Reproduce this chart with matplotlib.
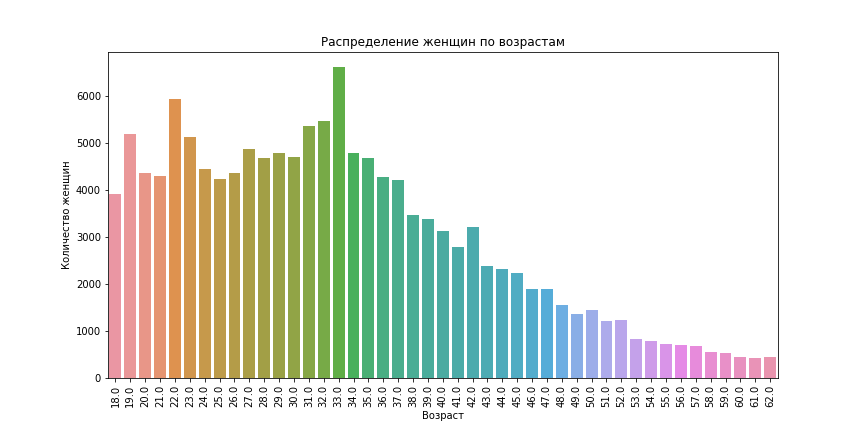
import matplotlib
matplotlib.use("Agg")
import matplotlib.pyplot as plt
import seaborn as sns

ages = [18.0, 19.0, 20.0, 21.0, 22.0, 23.0, 24.0, 25.0, 26.0, 27.0, 28.0,
        29.0, 30.0, 31.0, 32.0, 33.0, 34.0, 35.0, 36.0, 37.0, 38.0, 39.0,
        40.0, 41.0, 42.0, 43.0, 44.0, 45.0, 46.0, 47.0, 48.0, 49.0, 50.0,
        51.0, 52.0, 53.0, 54.0, 55.0, 56.0, 57.0, 58.0, 59.0, 60.0, 61.0, 62.0]
counts = [3920, 5210, 4360, 4300, 5940, 5130, 4450, 4240, 4360, 4890, 4680,
          4790, 4720, 5380, 5470, 6620, 4790, 4680, 4280, 4210, 3470, 3380,
          3130, 2790, 3210, 2380, 2320, 2230, 1890, 1890, 1550, 1360, 1450,
          1210, 1230, 830, 790, 720, 700, 680, 550, 530, 450, 430, 450]

labels = [str(a) for a in ages]

# husl palette, a bit lighter, desaturated to 0.75 like old seaborn
colors = [sns.desaturate(c, 0.75) for c in sns.husl_palette(len(labels), h=.01, s=.9, l=.7)]

fig, ax = plt.subplots(figsize=(12, 6), dpi=72)
fig.subplots_adjust(left=0.125, right=0.9, top=0.88, bottom=0.125)
sns.barplot(x=labels, y=counts, hue=labels, palette=colors, saturation=1,
            legend=False, ax=ax)
ax.set_title("Распределение женщин по возрастам")
ax.set_xlabel("Возраст")
ax.set_ylabel("Количество женщин")
plt.xticks(rotation=90)
plt.savefig("out.png", dpi=72)
